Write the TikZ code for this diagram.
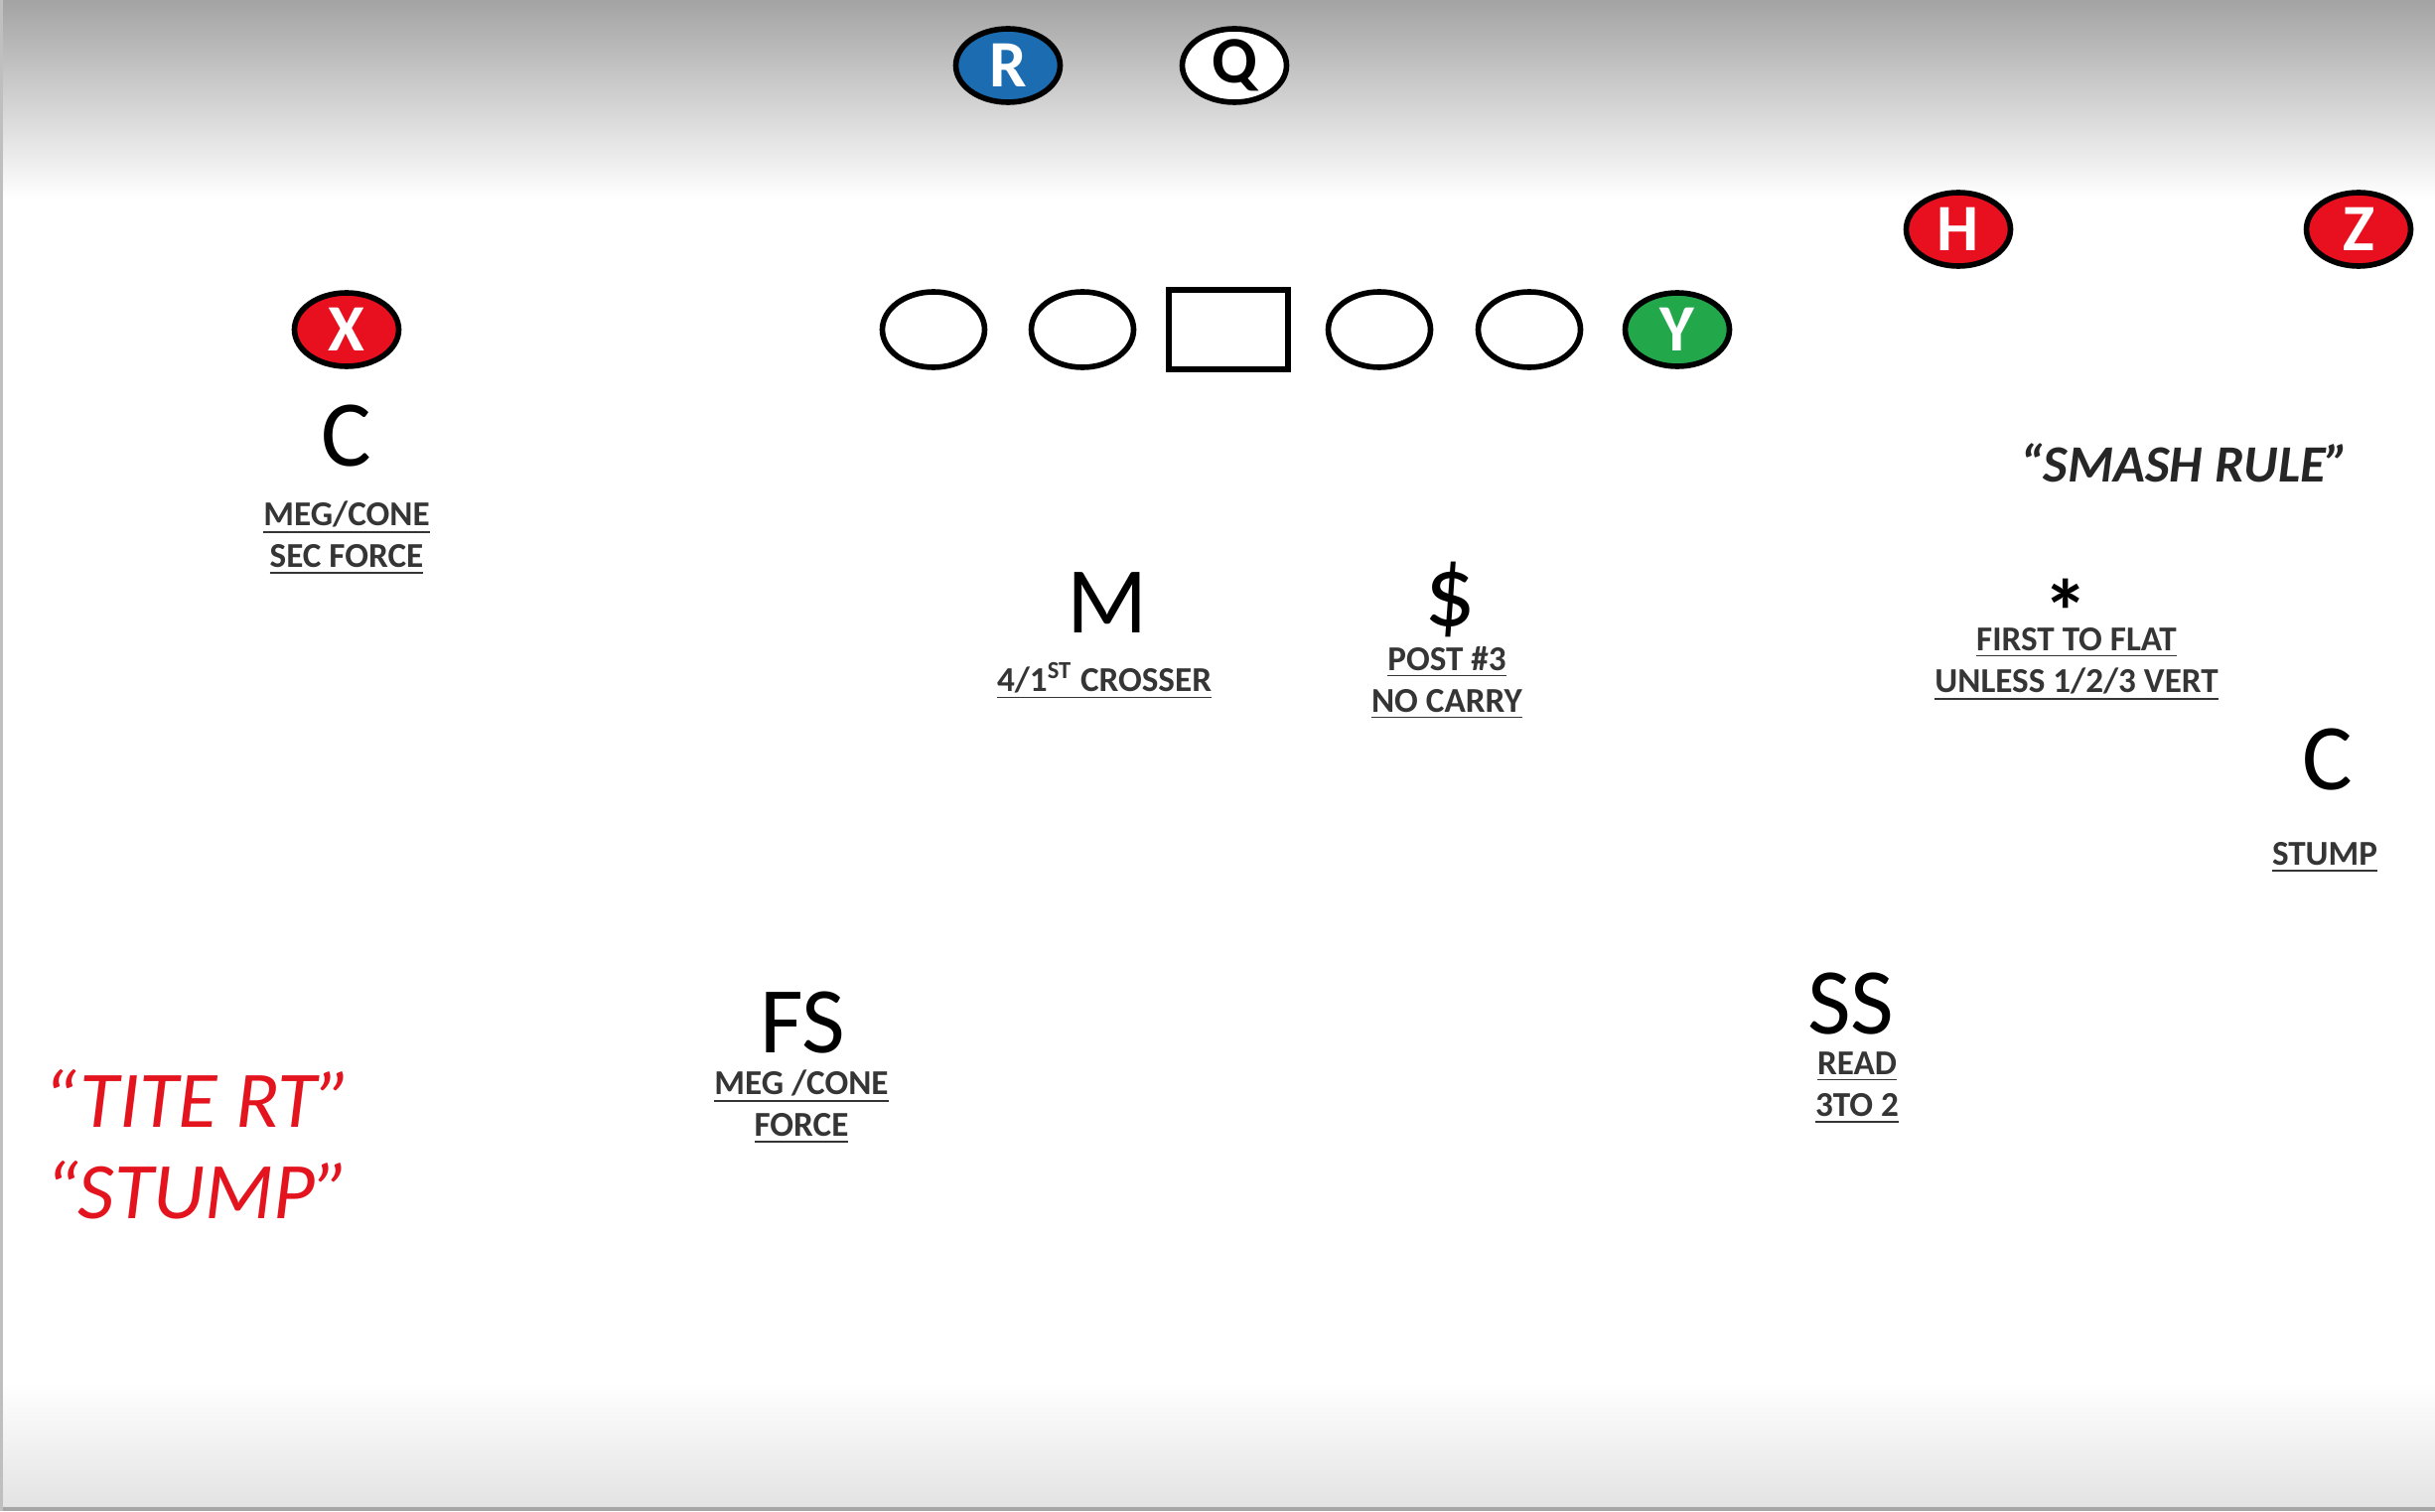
\documentclass[tikz,border=0pt]{standalone}
\usepackage{fontspec}
\setmainfont{Carlito}
\usetikzlibrary{shapes.geometric}
\definecolor{pblue}{HTML}{1B6CB0}
\definecolor{pred}{HTML}{E8101E}
\definecolor{pgreen}{HTML}{22A84A}
\definecolor{lblgray}{HTML}{353535}
\definecolor{tred}{HTML}{E4141E}
\newcommand\lblu[1]{\underline{#1}}
\tikzset{
  player/.style={ellipse, draw=black, line width=1.6pt, minimum width=10.5mm, minimum height=7.4mm, inner sep=0pt,
    font=\fontsize{19}{19}\selectfont\bfseries},
  lineman/.style={ellipse, draw=black, line width=1.6pt, minimum width=10.3mm, minimum height=7.6mm, inner sep=0pt},
  center/.style={rectangle, draw=black, line width=1.6pt, minimum width=12mm, minimum height=8mm, inner sep=0pt},
  big/.style={font=\fontsize{27}{27}\selectfont, inner sep=0pt},
  lbl/.style={font=\fontsize{10}{12}\selectfont\bfseries, text=lblgray, align=center, inner sep=0pt},
  note/.style={font=\fontsize{15}{15}\selectfont\bfseries\itshape, text=black!85, inner sep=0pt},
  call/.style={font=\fontsize{23}{23}\selectfont\itshape, text=tred, inner sep=0pt}
}
\begin{document}
\begin{tikzpicture}[x=0.1mm,y=0.1mm]
\useasboundingbox (0,0) rectangle (2452,1522);
\fill[white] (0,0) rectangle (2452,1522);
\shade[top color=black!36, bottom color=white] (0,1322) rectangle (2452,1522);
\shade[top color=white, bottom color=black!11] (0,4) rectangle (2452,130);
\fill[black!35] (0,0) rectangle (2452,4);
\fill[black!25] (0,0) rectangle (3,1522);

% offense
\node[player, fill=pblue, text=white] (R) at (1015,1456) {R};
\node[player, fill=white, text=black] (Q) at (1243,1456) {Q};
\node[player, fill=pred, text=white] (H) at (1972,1291) {H};
\node[player, fill=pred, text=white] (Z) at (2375,1291) {Z};
\node[player, fill=pred, text=white] (X) at (349,1190) {X};
\node[lineman, fill=white] (lt) at (940,1190) {};
\node[lineman, fill=white] (lg) at (1090,1190) {};
\node[center, fill=white] (c) at (1237,1190) {};
\node[lineman, fill=white] (rg) at (1389,1190) {};
\node[lineman, fill=white] (rt) at (1540,1190) {};
\node[player, fill=pgreen, text=white] (Y) at (1689,1190) {Y};

% defense
\node[big] (cl) at (349,1083) {C};
\node[lbl] (cll) at (349,980) {\lblu{MEG/CONE}\\\lblu{SEC FORCE}};
\node[big] (m) at (1115,915) {M};
\node[lbl] (ml) at (1112,836) {\lblu{4/1\textsuperscript{ST} CROSSER}};
\node[big, font=\fontsize{29}{29}\selectfont] (dol) at (1460,918) {\$};
\node[lbl] (doll) at (1457,834) {\lblu{POST \#3}\\\lblu{NO CARRY}};
\node[font=\fontsize{26}{26}\selectfont\bfseries, inner sep=0pt] (star) at (2080,906) {*};
\node[lbl] (starl) at (2091,853) {\lblu{FIRST TO FLAT}\\\lblu{UNLESS 1/2/3 VERT}};
\node[note] (smash) at (2200,1056) {“SMASH RULE”};
\node[big] (cr) at (2344,757) {C};
\node[lbl] (crl) at (2341,658) {\lblu{STUMP}};
\node[big] (fs) at (808,492) {FS};
\node[lbl] (fsl) at (807,407) {\lblu{MEG /CONE}\\\lblu{FORCE}};
\node[big] (ss) at (1864,511) {SS};
\node[lbl] (ssl) at (1870,426) {\lblu{READ}\\\lblu{3TO 2}};

% calls
\node[call] (tite) at (199,416) {“TITE RT”};
\node[call] (stump) at (199,323) {“STUMP”};
\end{tikzpicture}
\end{document}
